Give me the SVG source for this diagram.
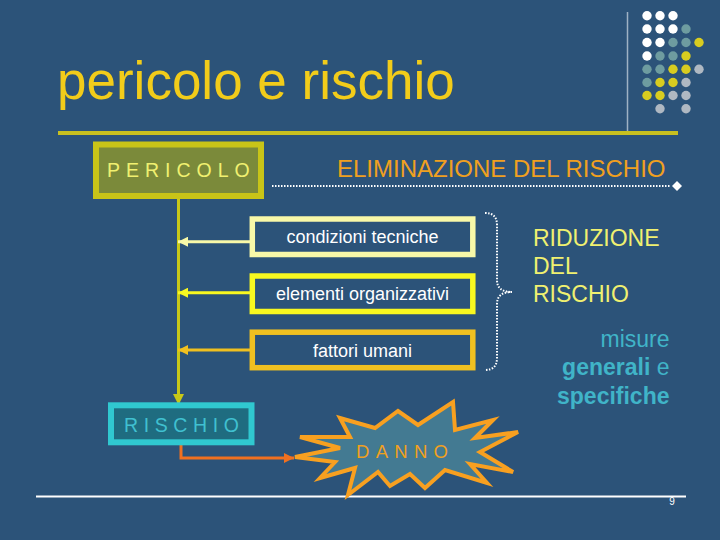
<svg xmlns="http://www.w3.org/2000/svg" width="720" height="540" viewBox="0 0 720 540">
<defs>
<style>
.sans{font-family:"Liberation Sans",Arial,sans-serif}
.box{fill:#2C5379;stroke-width:5.5}
.lbl{font-size:18px;fill:#FFFFFF;text-anchor:middle}
.teal{fill:#40B4C8;font-size:23px;text-anchor:end}
.ril{fill:#F0F070;font-size:23px}
</style>
<marker id="ah1" viewBox="0 0 10 10" refX="10" refY="5" markerWidth="11" markerHeight="10" markerUnits="userSpaceOnUse" orient="auto"><path d="M0,0 L10,5 L0,10 Z" fill="#F8F8A8"/></marker>
<marker id="ah2" viewBox="0 0 10 10" refX="10" refY="5" markerWidth="11" markerHeight="10" markerUnits="userSpaceOnUse" orient="auto"><path d="M0,0 L10,5 L0,10 Z" fill="#F8F820"/></marker>
<marker id="ah3" viewBox="0 0 10 10" refX="10" refY="5" markerWidth="11" markerHeight="10" markerUnits="userSpaceOnUse" orient="auto"><path d="M0,0 L10,5 L0,10 Z" fill="#F0C020"/></marker>
<marker id="ahv" viewBox="0 0 10 10" refX="10" refY="5" markerWidth="12" markerHeight="11" markerUnits="userSpaceOnUse" orient="auto"><path d="M0,0 L10,5 L0,10 Z" fill="#C8C818"/></marker>
<marker id="aho" viewBox="0 0 10 10" refX="10" refY="5" markerWidth="10" markerHeight="10" markerUnits="userSpaceOnUse" orient="auto"><path d="M0,0 L10,5 L0,10 Z" fill="#F07020"/></marker>
</defs>
<rect x="0" y="0" width="720" height="540" fill="#2C5379"/>

<g id="decor">
<line x1="627.5" y1="12" x2="627.5" y2="131" stroke="#9FB2C4" stroke-width="1.5"/>
<g>
<circle cx="647" cy="15.7" r="4.7" fill="#FFFFFF"/><circle cx="660" cy="15.7" r="4.7" fill="#FFFFFF"/><circle cx="673" cy="15.7" r="4.7" fill="#FFFFFF"/>
<circle cx="647" cy="29" r="4.7" fill="#FFFFFF"/><circle cx="660" cy="29" r="4.7" fill="#FFFFFF"/><circle cx="673" cy="29" r="4.7" fill="#FFFFFF"/><circle cx="686" cy="29" r="4.7" fill="#6E9CA0"/>
<circle cx="647" cy="42.5" r="4.7" fill="#FFFFFF"/><circle cx="660" cy="42.5" r="4.7" fill="#FFFFFF"/><circle cx="673" cy="42.5" r="4.7" fill="#6E9CA0"/><circle cx="686" cy="42.5" r="4.7" fill="#6E9CA0"/><circle cx="699" cy="42.5" r="4.7" fill="#D8CC20"/>
<circle cx="647" cy="56" r="4.7" fill="#FFFFFF"/><circle cx="660" cy="56" r="4.7" fill="#6E9CA0"/><circle cx="673" cy="56" r="4.7" fill="#6E9CA0"/><circle cx="686" cy="56" r="4.7" fill="#D8CC20"/>
<circle cx="647" cy="69.3" r="4.7" fill="#6E9CA0"/><circle cx="660" cy="69.3" r="4.7" fill="#6E9CA0"/><circle cx="673" cy="69.3" r="4.7" fill="#D8CC20"/><circle cx="686" cy="69.3" r="4.7" fill="#D8CC20"/><circle cx="699" cy="69.3" r="4.7" fill="#AFB8C2"/>
<circle cx="647" cy="82.5" r="4.7" fill="#6E9CA0"/><circle cx="660" cy="82.5" r="4.7" fill="#D8CC20"/><circle cx="673" cy="82.5" r="4.7" fill="#D8CC20"/><circle cx="686" cy="82.5" r="4.7" fill="#AFB8C2"/>
<circle cx="647" cy="95.5" r="4.7" fill="#D8CC20"/><circle cx="660" cy="95.5" r="4.7" fill="#D8CC20"/><circle cx="673" cy="95.5" r="4.7" fill="#AFB8C2"/><circle cx="686" cy="95.5" r="4.7" fill="#AFB8C2"/>
<circle cx="660" cy="108.7" r="4.7" fill="#AFB8C2"/><circle cx="686" cy="108.7" r="4.7" fill="#AFB8C2"/>
</g>
<line x1="58" y1="133" x2="678" y2="133" stroke="#C8C020" stroke-width="4"/>
<line x1="36" y1="496.5" x2="686" y2="496.5" stroke="#FFFFFF" stroke-width="2"/>
<text x="672" y="505" class="sans" font-size="10" fill="#FFFFFF" text-anchor="middle">9</text>
</g>

<g id="title"><text x="57" y="99" class="sans" font-size="53" fill="#F2CC1A">pericolo e rischio</text></g>

<g id="connectors" fill="none">
<line x1="178.5" y1="199" x2="178.5" y2="405" stroke="#C8C818" stroke-width="3" marker-end="url(#ahv)"/>
<line x1="250" y1="241.7" x2="178" y2="241.7" stroke="#F8F8A8" stroke-width="3" marker-end="url(#ah1)"/>
<line x1="250" y1="292.7" x2="178" y2="292.7" stroke="#F8F820" stroke-width="3" marker-end="url(#ah2)"/>
<line x1="250" y1="350" x2="178" y2="350" stroke="#F0C020" stroke-width="3" marker-end="url(#ah3)"/>
<polyline points="181,445 181,458 294,458" stroke="#F07020" stroke-width="3" marker-end="url(#aho)"/>
<line x1="272" y1="186" x2="671" y2="186" stroke="#FFFFFF" stroke-width="2" stroke-dasharray="1.5 1.5"/>
<path d="M677,181 L682,186 L677,191 L672,186 Z" fill="#FFFFFF"/>
<path d="M485,213 Q497,213 497,225 L497,280 Q497,292 512,292 Q497,292 497,304 L497,358 Q497,370 485,370" stroke="#FFFFFF" stroke-width="2" stroke-dasharray="1.5 1.5"/>
</g>

<g id="pericolo">
<rect x="96" y="144.5" width="165" height="51.5" fill="#7B8A3A" stroke="#C8C418" stroke-width="6"/>
<text x="107" y="176.5" class="sans" font-size="19.5" fill="#F0F070" letter-spacing="6">PERICOLO</text>
</g>

<g id="eliminazione"><text x="337" y="176.5" class="sans" font-size="24" fill="#F0A020">ELIMINAZIONE DEL RISCHIO</text></g>

<g id="condizioni">
<rect x="252.3" y="219" width="220.5" height="35.5" class="box" stroke="#F8F8A8"/>
<text x="362.5" y="243.3" class="sans lbl">condizioni tecniche</text>
</g>
<g id="elementi">
<rect x="252.3" y="276" width="220.5" height="35.5" class="box" stroke="#F8F820"/>
<text x="362.5" y="300" class="sans lbl">elementi organizzativi</text>
</g>
<g id="fattori">
<rect x="252.3" y="332.2" width="220.5" height="35.5" class="box" stroke="#F0C020"/>
<text x="362.5" y="356.7" class="sans lbl">fattori umani</text>
</g>

<g id="riduzione">
<text class="sans ril"><tspan x="533" y="245.7">RIDUZIONE</tspan><tspan x="533" y="274">DEL</tspan><tspan x="533" y="302.3">RISCHIO</tspan></text>
</g>

<g id="misure">
<text class="sans teal"><tspan x="669.5" y="346.7">misure</tspan><tspan x="669.5" y="375.2"><tspan font-weight="bold">generali</tspan> e</tspan><tspan x="669.5" y="403.7" font-weight="bold">specifiche</tspan></text>
</g>

<g id="rischio">
<rect x="111" y="405.3" width="140.5" height="37" fill="#1F6C80" stroke="#30C8D0" stroke-width="6"/>
<text x="124" y="431.7" class="sans" font-size="19.5" fill="#40C0D0" letter-spacing="5.6">RISCHIO</text>
</g>

<g id="danno">
<polygon points="295,457 340,448 300,437 350,437 340,418 375,428 398,411 418,425 453,402 455,430 493,420 475,438 518,432 480,452 513,472 470,464 487,483 445,470 425,488 410,474 390,486 378,472 348,495 355,468 320,478 335,462" fill="#437A92" stroke="#F8A020" stroke-width="4" stroke-linejoin="miter"/>
<text x="356" y="458.3" class="sans" font-size="18.5" fill="#F0A020" letter-spacing="6.3">DANNO</text>
</g>
</svg>
